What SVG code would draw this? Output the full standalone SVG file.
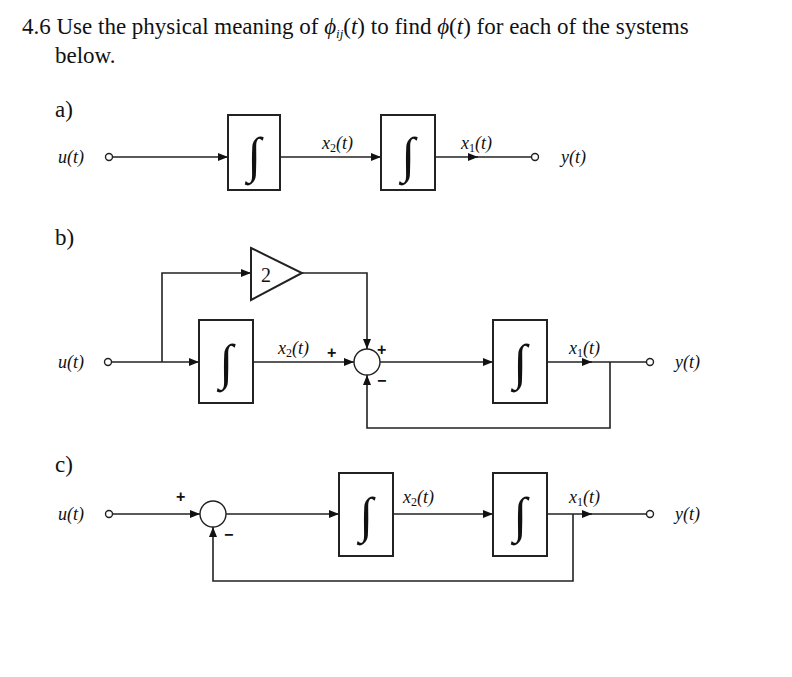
<svg xmlns="http://www.w3.org/2000/svg" width="792" height="677" viewBox="0 0 792 677">
<defs>
<marker id="ar" markerWidth="10" markerHeight="8" refX="10" refY="4" orient="auto" markerUnits="userSpaceOnUse"><path d="M0,0 L10,4 L0,8 Z" fill="#111"/></marker>
<style>
text{font-family:"Liberation Serif","DejaVu Serif",serif;fill:#111}
.t{font-family:"Liberation Serif",serif;font-size:23px}
.l{font-family:"Liberation Serif",serif;font-size:18px;font-style:italic}
.b{fill:#fff;stroke:#222;stroke-width:2}
.w{fill:none;stroke:#222;stroke-width:1.6}
.c{fill:#fff;stroke:#222;stroke-width:1.4}
.i{font-family:"Liberation Serif",serif;font-size:50px;font-style:italic;text-anchor:middle}
.s{font-family:"Liberation Sans",sans-serif;font-size:16px;font-weight:bold}
</style>
</defs>
<rect width="792" height="677" fill="#fff"/>
<text class="t" x="22" y="34">4.6 Use the physical meaning of <tspan font-style="italic">ϕ</tspan><tspan font-style="italic" font-size="13" dy="4">ij</tspan><tspan dy="-4">(</tspan><tspan font-style="italic">t</tspan>) to find <tspan font-style="italic">ϕ</tspan>(<tspan font-style="italic">t</tspan>) for each of the systems</text>
<text class="t" x="55" y="63">below.</text>
<text class="t" x="55" y="117" font-size="18">a)</text>
<text class="t" x="55" y="245" font-size="18">b)</text>
<text class="t" x="55" y="472" font-size="18">c)</text>

<g id="connectors">
<path class="w" d="M112,157 H228" marker-end="url(#ar)"/>
<path class="w" d="M280,157 H381" marker-end="url(#ar)"/>
<path class="w" d="M435,157 H478" marker-end="url(#ar)"/>
<path class="w" d="M476,157 H532"/>
<path class="w" d="M111,362 H199" marker-end="url(#ar)"/>
<path class="w" d="M162,362 V273 H251" marker-end="url(#ar)"/>
<path class="w" d="M302,273 H367 V349" marker-end="url(#ar)"/>
<path class="w" d="M253,362 H354" marker-end="url(#ar)"/>
<path class="w" d="M380,362 H493" marker-end="url(#ar)"/>
<path class="w" d="M547,362 H592" marker-end="url(#ar)"/>
<path class="w" d="M590,362 H647"/>
<path class="w" d="M610,362 V428 H367 V375" marker-end="url(#ar)"/>
<path class="w" d="M112,514 H200" marker-end="url(#ar)"/>
<path class="w" d="M226,514 H339" marker-end="url(#ar)"/>
<path class="w" d="M393,514 H493" marker-end="url(#ar)"/>
<path class="w" d="M547,514 H592" marker-end="url(#ar)"/>
<path class="w" d="M590,514 H647"/>
<path class="w" d="M573,514 V581 H213 V527" marker-end="url(#ar)"/>
</g>

<g id="a_in"><circle class="c" cx="109" cy="157" r="3.5"/><text class="l" x="58" y="163">u(t)</text></g>
<g id="a_int1"><rect class="b" x="228" y="115" width="52" height="75"/><text class="i" x="254" y="172">∫</text></g>
<g id="a_int2"><rect class="b" x="381" y="115" width="54" height="75"/><text class="i" x="408" y="172">∫</text></g>
<g id="a_out"><circle class="c" cx="535" cy="157" r="3.5"/><text class="l" x="561" y="163">y(t)</text></g>
<text class="l" x="322" y="149">x<tspan font-size="12" dy="3" font-style="normal">2</tspan><tspan dy="-3">(t)</tspan></text>
<text class="l" x="461" y="149">x<tspan font-size="12" dy="3" font-style="normal">1</tspan><tspan dy="-3">(t)</tspan></text>

<g id="b_in"><circle class="c" cx="108" cy="362" r="3.5"/><text class="l" x="58" y="368">u(t)</text></g>
<g id="b_gain"><path class="b" d="M251,248 L302,273 L251,300 Z"/><text x="261" y="282" font-size="20">2</text></g>
<g id="b_int1"><rect class="b" x="199" y="320" width="54" height="83"/><text class="i" x="226" y="379">∫</text></g>
<g id="b_sum"><circle class="c" cx="367" cy="362" r="13"/><text class="s" x="327" y="358">+</text><text class="s" x="377" y="355">+</text><text class="s" x="377" y="386">−</text></g>
<g id="b_int2"><rect class="b" x="493" y="320" width="54" height="83"/><text class="i" x="520" y="379">∫</text></g>
<g id="b_out"><circle class="c" cx="650" cy="362" r="3.5"/><text class="l" x="675" y="368">y(t)</text></g>
<text class="l" x="278" y="354">x<tspan font-size="12" dy="3" font-style="normal">2</tspan><tspan dy="-3">(t)</tspan></text>
<text class="l" x="569" y="354">x<tspan font-size="12" dy="3" font-style="normal">1</tspan><tspan dy="-3">(t)</tspan></text>

<g id="c_in"><circle class="c" cx="109" cy="514" r="3.5"/><text class="l" x="58" y="520">u(t)</text></g>
<g id="c_sum"><circle class="c" cx="213" cy="514" r="13"/><text class="s" x="176" y="502">+</text><text class="s" x="224" y="540">−</text></g>
<g id="c_int1"><rect class="b" x="339" y="473" width="54" height="83"/><text class="i" x="366" y="532">∫</text></g>
<g id="c_int2"><rect class="b" x="493" y="473" width="54" height="83"/><text class="i" x="520" y="532">∫</text></g>
<g id="c_out"><circle class="c" cx="650" cy="514" r="3.5"/><text class="l" x="675" y="520">y(t)</text></g>
<text class="l" x="403" y="503">x<tspan font-size="12" dy="3" font-style="normal">2</tspan><tspan dy="-3">(t)</tspan></text>
<text class="l" x="569" y="503">x<tspan font-size="12" dy="3" font-style="normal">1</tspan><tspan dy="-3">(t)</tspan></text>
</svg>
